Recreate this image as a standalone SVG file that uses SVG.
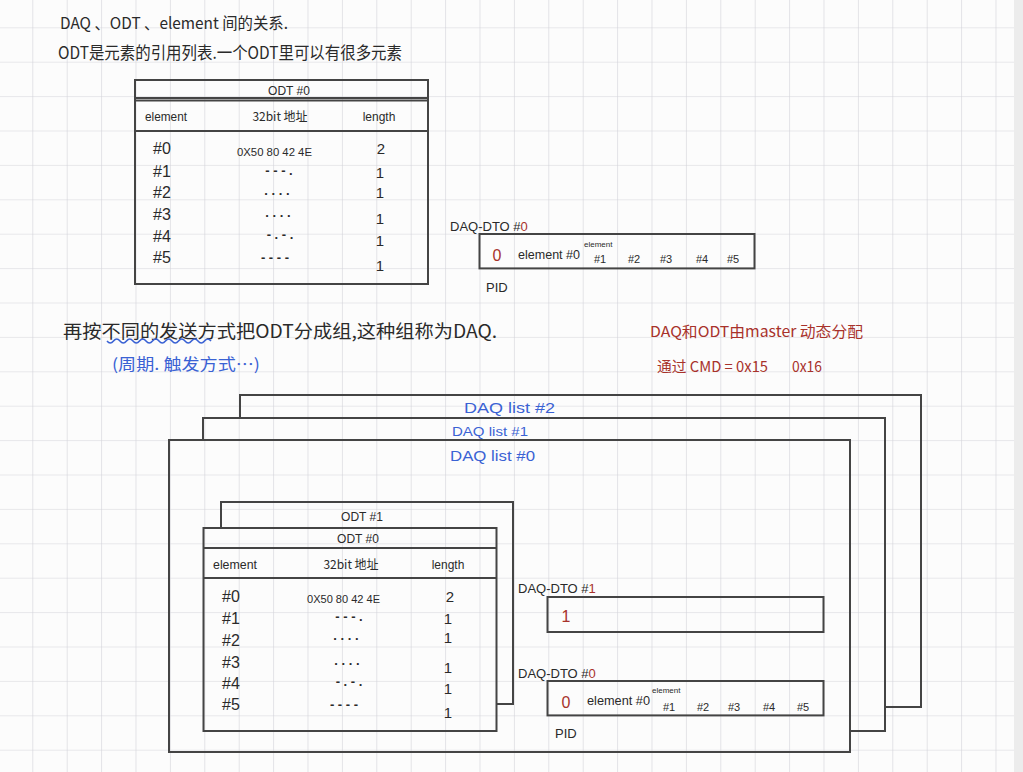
<svg xmlns="http://www.w3.org/2000/svg" width="1023" height="772" viewBox="0 0 1023 772">
<defs>
<pattern id="grid" patternUnits="userSpaceOnUse" x="32.3" y="27.3" width="34.4" height="34.4">
<path d="M0,0 H34.4 M0,0 V34.4" fill="none" stroke="#d3d3da" stroke-width="1.2"/>
</pattern>
<style>
.t{font-family:"Liberation Sans","Noto Sans CJK SC",sans-serif;fill:#2a2a2a}
.c{font-family:"Noto Sans CJK SC","Liberation Sans",sans-serif;fill:#2a2a2a}
.blue{fill:#3a62d4}
.red{fill:#a8322b}
.box{fill:none;stroke:#444;stroke-width:2}
.mid{text-anchor:middle}
.dash{font-family:"Liberation Sans",sans-serif;fill:#2a2a2a;font-size:13px;font-weight:bold;text-anchor:middle}
</style>
</defs>
<rect x="0" y="0" width="1023" height="772" fill="#fcfcfc"/>
<rect x="0" y="0" width="1014" height="772" fill="url(#grid)"/>
<rect x="1014" y="0" width="9" height="772" fill="#ececec"/>

<g id="notes">
<text class="c" x="60" y="29" font-size="16" textLength="228" lengthAdjust="spacingAndGlyphs">DAQ 、ODT 、element 间的关系.</text>
<text class="c" x="58" y="59" font-size="17" textLength="344" lengthAdjust="spacingAndGlyphs">ODT是元素的引用列表.一个ODT里可以有很多元素</text>
<text class="c" x="63" y="338" font-size="18" textLength="434" lengthAdjust="spacingAndGlyphs">再按不同的发送方式把ODT分成组,这种组称为DAQ.</text>
<path d="M107,341 q3.25,4 6.5,0 t6.5,0 t6.5,0 t6.5,0 t6.5,0 t6.5,0 t6.5,0 t6.5,0 t6.5,0 t6.5,0 t6.5,0 t6.5,0 t6.5,0 t6.5,0 t6.5,0 t6.5,0" fill="none" stroke="#3a62d4" stroke-width="1.5"/>
<text class="c blue" x="112" y="370" font-size="16" textLength="148" lengthAdjust="spacingAndGlyphs">(周期. 触发方式…)</text>
<text class="c red" x="650" y="337" font-size="15" textLength="213" lengthAdjust="spacingAndGlyphs">DAQ和ODT由master 动态分配</text>
<text class="c red" x="657" y="372" font-size="15" textLength="111" lengthAdjust="spacingAndGlyphs">通过 CMD = 0x15</text>
<text class="c red" x="792" y="372" font-size="15" textLength="30" lengthAdjust="spacingAndGlyphs">0x16</text>
</g>

<g id="odt-top">
<rect class="box" x="135" y="80" width="293" height="204" stroke-width="2.4"/>
<line class="box" x1="135" y1="98" x2="428" y2="98" stroke-width="1.5"/>
<line class="box" x1="135" y1="100.5" x2="428" y2="100.5" stroke-width="1.5"/>
<line class="box" x1="135" y1="131" x2="428" y2="131"/>
<text class="t mid" x="289" y="95" font-size="12">ODT #0</text>
<text class="t" x="145" y="121" font-size="12" textLength="42" lengthAdjust="spacingAndGlyphs">element</text>
<text class="c mid" x="280" y="121" font-size="12">32bit 地址</text>
<text class="t mid" x="379" y="121" font-size="12">length</text>
<text class="t" x="153" y="154" font-size="16" fill="#555">#0</text>
<text class="t" x="153" y="177" font-size="16">#1</text>
<text class="t" x="153" y="198" font-size="16">#2</text>
<text class="t" x="153" y="220" font-size="16">#3</text>
<text class="t" x="153" y="242" font-size="16">#4</text>
<text class="t" x="153" y="263" font-size="16">#5</text>
<text class="t" x="237" y="156" font-size="11" textLength="75" lengthAdjust="spacingAndGlyphs">0X50 80 42 4E</text>
<text class="dash" x="279" y="175">- - - .</text>
<text class="dash" x="277" y="195">. . . .</text>
<text class="dash" x="278" y="217">. . . .</text>
<text class="dash" x="280" y="239">- . - .</text>
<text class="dash" x="275" y="262">- - - -</text>
<text class="t mid" x="381" y="154" font-size="15">2</text>
<text class="t mid" x="380" y="178" font-size="15">1</text>
<text class="t mid" x="380" y="198" font-size="15">1</text>
<text class="t mid" x="380" y="224" font-size="15">1</text>
<text class="t mid" x="380" y="246" font-size="15">1</text>
<text class="t mid" x="380" y="271" font-size="15">1</text>
</g>

<g id="dto-top">
<text class="t" x="450" y="231" font-size="13">DAQ-DTO #<tspan class="red">0</tspan></text>
<rect class="box" x="479.5" y="234" width="275" height="34.4"/>
<text class="t red mid" x="497" y="261" font-size="16">0</text>
<text class="t" x="518" y="259" font-size="12" textLength="62" lengthAdjust="spacingAndGlyphs">element #0</text>
<text class="t" x="584" y="247" font-size="8">element</text>
<text class="t" x="594" y="263" font-size="11">#1</text>
<text class="t" x="628" y="263" font-size="11">#2</text>
<text class="t" x="660" y="263" font-size="11">#3</text>
<text class="t" x="696" y="263" font-size="11">#4</text>
<text class="t" x="727" y="263" font-size="11">#5</text>
<text class="t" x="486" y="292" font-size="13">PID</text>
</g>

<g id="daq-list-2">
<polyline class="box" points="240,418 240,395 921,395 921,707 885,707"/>
<text class="t blue" x="464" y="413" font-size="14" textLength="91" lengthAdjust="spacingAndGlyphs">DAQ list #2</text>
</g>
<g id="daq-list-1">
<polyline class="box" points="203,440 203,418 885,418 885,731 850,731"/>
<text class="t blue" x="452" y="436" font-size="13" textLength="76" lengthAdjust="spacingAndGlyphs">DAQ list #1</text>
</g>
<g id="daq-list-0">
<rect class="box" x="169" y="440" width="681" height="312"/>
<text class="t blue" x="450" y="461" font-size="14" textLength="85" lengthAdjust="spacingAndGlyphs">DAQ list #0</text>
</g>

<g id="odt1-lower">
<polyline class="box" points="221,528 221,502 513,502 513,704 497,704"/>
<text class="t mid" x="362" y="521" font-size="12">ODT #1</text>
</g>

<g id="odt0-lower">
<rect class="box" x="203.5" y="528" width="293" height="203"/>
<line class="box" x1="203.5" y1="548" x2="496.5" y2="548"/>
<line class="box" x1="203.5" y1="578" x2="496.5" y2="578"/>
<text class="t mid" x="358" y="543" font-size="12">ODT #0</text>
<text class="t" x="213" y="569" font-size="12" textLength="44" lengthAdjust="spacingAndGlyphs">element</text>
<text class="c mid" x="351" y="569" font-size="12">32bit 地址</text>
<text class="t mid" x="448" y="569" font-size="12">length</text>
<text class="t" x="222" y="602" font-size="16" fill="#555">#0</text>
<text class="t" x="222" y="624" font-size="16">#1</text>
<text class="t" x="222" y="646" font-size="16">#2</text>
<text class="t" x="222" y="668" font-size="16">#3</text>
<text class="t" x="222" y="689" font-size="16">#4</text>
<text class="t" x="222" y="710" font-size="16">#5</text>
<text class="t" x="307" y="603" font-size="11" textLength="73" lengthAdjust="spacingAndGlyphs">0X50 80 42 4E</text>
<text class="dash" x="349" y="621">- - - .</text>
<text class="dash" x="346" y="640">. . . .</text>
<text class="dash" x="347" y="665">. . . .</text>
<text class="dash" x="349" y="686">- . - .</text>
<text class="dash" x="344" y="709">- - - -</text>
<text class="t mid" x="450" y="602" font-size="15">2</text>
<text class="t mid" x="448" y="624" font-size="15">1</text>
<text class="t mid" x="448" y="643" font-size="15">1</text>
<text class="t mid" x="448" y="673" font-size="15">1</text>
<text class="t mid" x="448" y="694" font-size="15">1</text>
<text class="t mid" x="448" y="718" font-size="15">1</text>
</g>

<g id="dto1-lower">
<text class="t" x="518" y="593" font-size="13">DAQ-DTO #<tspan class="red">1</tspan></text>
<rect class="box" x="547.5" y="597" width="276" height="35"/>
<text class="t red mid" x="566" y="622" font-size="16">1</text>
</g>

<g id="dto0-lower">
<text class="t" x="518" y="678" font-size="13">DAQ-DTO #<tspan class="red">0</tspan></text>
<rect class="box" x="547.5" y="681" width="276" height="34.4"/>
<text class="t red mid" x="566" y="708" font-size="16">0</text>
<text class="t" x="587" y="705" font-size="12" textLength="63" lengthAdjust="spacingAndGlyphs">element #0</text>
<text class="t" x="652" y="693" font-size="8">element</text>
<text class="t" x="663" y="711" font-size="11">#1</text>
<text class="t" x="697" y="711" font-size="11">#2</text>
<text class="t" x="728" y="711" font-size="11">#3</text>
<text class="t" x="763" y="711" font-size="11">#4</text>
<text class="t" x="797" y="711" font-size="11">#5</text>
<text class="t" x="555" y="738" font-size="13">PID</text>
</g>

<g id="connectors"/>
</svg>
